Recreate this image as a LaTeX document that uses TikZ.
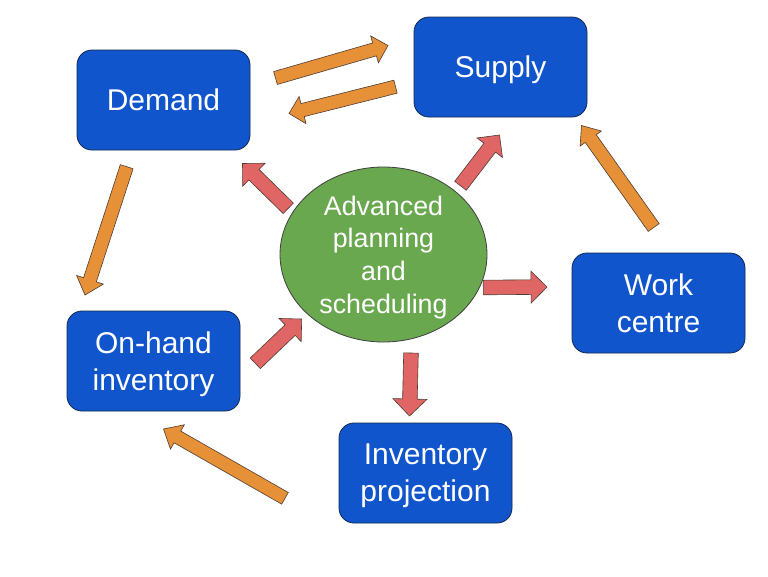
\documentclass[tikz,border=0pt]{standalone}
\usepackage{fontspec}
\setmainfont{Liberation Sans}
\usetikzlibrary{calc,shapes.geometric}
\definecolor{boxblue}{RGB}{17,85,204}
\definecolor{boxedge}{RGB}{20,40,80}
\definecolor{ellgreen}{RGB}{106,168,79}
\definecolor{arrred}{RGB}{224,102,102}
\definecolor{arrorange}{RGB}{230,145,56}
\definecolor{arredge}{RGB}{80,60,50}
\newcommand\blockarrow[6]{% style, from, to, shaft half, head half, head length
  \coordinate (hb) at ($(#3)!#6!(#2)$);
  \draw[#1] ($(#2)!#4!90:(#3)$) -- ($(hb)!#4!90:(#3)$) -- ($(hb)!#5!90:(#3)$) -- (#3)
    -- ($(hb)!#5!-90:(#3)$) -- ($(hb)!#4!-90:(#3)$) -- ($(#2)!#4!-90:(#3)$) -- cycle;
}
\begin{document}
\begin{tikzpicture}[x=1pt,y=-1pt,
  box/.style={rectangle, rounded corners=15pt, fill=boxblue, draw=boxedge, line width=0.8pt,
    minimum width=173pt, minimum height=100pt, inner sep=0pt, outer sep=0pt, text depth=0pt,
    text=white, align=center, font=\fontsize{30}{37}\selectfont},
  hub/.style={ellipse, fill=ellgreen, draw=black!75, line width=0.8pt,
    minimum width=207pt, minimum height=175pt, inner sep=0pt, outer sep=0pt, text depth=0pt,
    text=white, align=center, font=\fontsize{26.8}{32.7}\selectfont},
  orarrow/.style={fill=arrorange, draw=arredge, line width=0.6pt, line join=miter},
  rdarrow/.style={fill=arrred, draw=arredge, line width=0.6pt, line join=miter}]
\useasboundingbox (0,0) rectangle (768,576);
\fill[white] (0,0) rectangle (768,576);

\node[box] (demand) at (163.5,100) {Demand};
\node[box] (supply) at (500.5,67) {Supply};
\node[box] (work) at (658.5,303) {Work\\centre};
\node[box] (onhand) at (153.5,361) {On-hand\\inventory};
\node[box] (proj) at (425.5,473) {Inventory\\projection};
\node[hub] (aps) at (383.5,254.5) {Advanced\\planning\\and\\scheduling};

% orange arrows
\coordinate (o1a) at (275.5,78);   \coordinate (o1b) at (388,45.5);
\coordinate (o2a) at (395.5,86.7); \coordinate (o2b) at (289,113.5);
\coordinate (o3a) at (126.7,166.7);\coordinate (o3b) at (85,295);
\coordinate (o4a) at (653.7,227.5);\coordinate (o4b) at (581.5,125.5);
\coordinate (o5a) at (285,498.3);  \coordinate (o5b) at (163.5,429);
\blockarrow{orarrow}{o1a}{o1b}{6.7pt}{14pt}{14pt}
\blockarrow{orarrow}{o2a}{o2b}{6.7pt}{14pt}{14pt}
\blockarrow{orarrow}{o3a}{o3b}{6.7pt}{14pt}{16pt}
\blockarrow{orarrow}{o4a}{o4b}{6.7pt}{13pt}{16pt}
\blockarrow{orarrow}{o5a}{o5b}{6.7pt}{14pt}{16pt}

% red arrows
\coordinate (r1a) at (288.3,208.3); \coordinate (r1b) at (242.5,163.5);
\coordinate (r2a) at (460.5,185.8); \coordinate (r2b) at (499.5,135);
\coordinate (r3a) at (483.3,287.5); \coordinate (r3b) at (547,287);
\coordinate (r4a) at (411,353);     \coordinate (r4b) at (409.5,416);
\coordinate (r5a) at (255.3,363.3); \coordinate (r5b) at (301.7,319);
\blockarrow{rdarrow}{r1a}{r1b}{7.3pt}{16pt}{16pt}
\blockarrow{rdarrow}{r2a}{r2b}{7.3pt}{16pt}{16pt}
\blockarrow{rdarrow}{r3a}{r3b}{7.3pt}{16pt}{16pt}
\blockarrow{rdarrow}{r4a}{r4b}{7.3pt}{17pt}{17pt}
\blockarrow{rdarrow}{r5a}{r5b}{7.3pt}{16pt}{16pt}
\end{tikzpicture}
\end{document}
